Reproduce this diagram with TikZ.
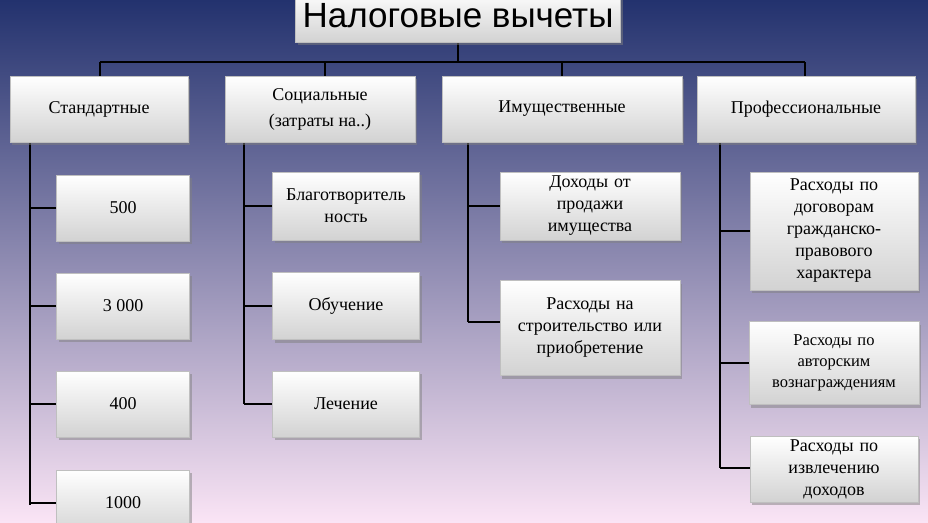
\documentclass[tikz,border=0pt]{standalone}
\usepackage{fontspec}
\setmainfont{Liberation Serif}
\newfontfamily\titlefont{Liberation Sans}
\usetikzlibrary{shadows}
\definecolor{bgtop}{RGB}{35,50,110}
\definecolor{bgmid}{RGB}{165,195,235}
\definecolor{bgbot}{RGB}{250,228,245}
\tikzset{
  box/.style={draw=gray!50, rectangle, top color=white, bottom color=gray!35,
    drop shadow={shadow xshift=2pt, shadow yshift=-3pt, opacity=0.5},
    align=center, font=\fontsize{18}{22}\selectfont, inner sep=2pt},
  link/.style={line width=2.6pt, black}
}
\begin{document}
\begin{tikzpicture}[x=1pt,y=-1pt]
\clip (0,0) rectangle (928,522);
\useasboundingbox (0,0) rectangle (928,522);
\shade[top color=bgtop, middle color=bgmid, bottom color=bgbot] (0,0) rectangle (928,522);
\coordinate (bL) at (100,62); \coordinate (bR) at (805,62);
\coordinate (bT) at (458,62);
\coordinate (v1) at (30,505); \coordinate (v2) at (244,404); \coordinate (v3) at (468,322); \coordinate (v4) at (720,468);
\draw[link] (bT) -- (458,40);
\draw[link] (bL) -- (bR);
\draw[link] (bL) -- (100,80); \draw[link] (325,62) -- (325,80);
\draw[link] (562,62) -- (562,80); \draw[link] (bR) -- (805,80);
\draw[link] (30,140) -- (v1);
\draw[link] (244,140) -- (v2);
\draw[link] (468,140) -- (v3);
\draw[link] (720,140) -- (v4);
\node[box, minimum width=178, minimum height=66] (std) at (99,109) {Стандартные};
\node[box, minimum width=190, minimum height=66] (soc) at (320,109) {Социальные\\[4pt](затраты на..)};
\node[box, minimum width=240, minimum height=66] (imu) at (562,109) {Имущественные};
\node[box, minimum width=218, minimum height=66] (pro) at (806,109) {Профессиональные};
\foreach \n/\y/\t in {a/208/500, b/306/3 000, c/404/400, d/503/1000}{
  \draw[link] (30,\y) -- (123,\y);
  \node[box, minimum width=133, minimum height=66] (s\n) at (123,\y) {\t};
}
\draw[link] (244,206) -- (346,206);
\node[box, minimum width=147, minimum height=68, text width=143] (c1) at (346,206) {Благотворитель\\ность};
\draw[link] (244,306) -- (346,306);
\node[box, minimum width=147, minimum height=67] (c2) at (346,306) {Обучение};
\draw[link] (244,404) -- (346,404);
\node[box, minimum width=147, minimum height=66] (c3) at (346,404) {Лечение};
\draw[link] (468,206) -- (590,206);
\node[box, minimum width=180, minimum height=68, text width=176] (i1) at (590,206) {Доходы от\\продажи\\имущества};
\draw[link] (468,322) -- (590,322);
\node[box, minimum width=180, minimum height=95, text width=176] (i2) at (590,328) {Расходы на\\строительство или\\приобретение};
\draw[link] (720,231) -- (834,231);
\node[box, minimum width=168, minimum height=118, text width=164] (p1) at (834,231) {Расходы по\\договорам\\гражданско-\\правового\\характера};
\draw[link] (720,363) -- (834,363);
\node[box, minimum width=168, minimum height=83, text width=166, font=\fontsize{16.5}{21}\selectfont] (p2) at (834,363) {Расходы по\\авторским\\вознаграждениям};
\draw[link] (720,468) -- (834,468);
\node[box, minimum width=168, minimum height=66, text width=164] (p3) at (834,469) {Расходы по\\извлечению\\доходов};
\node[box, minimum width=325, minimum height=52, font=\titlefont\fontsize{35}{38}\selectfont] (title) at (458,16) {Налоговые вычеты};
\end{tikzpicture}
\end{document}
